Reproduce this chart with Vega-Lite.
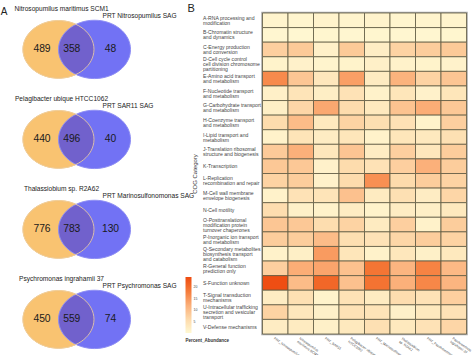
{
"$schema": "https://vega.github.io/schema/vega-lite/v6.json",
"background": "white",
"padding": {"left": 0, "top": 1, "right": 0, "bottom": 0},
"config": {"view": {"stroke": null}, "font": "Liberation Sans"},
"spacing": -11.5,
"resolve": {"legend": {"color": "independent"}},
"hconcat": [
{
"title": {"text": "A", "orient": "left", "anchor": "end", "angle": 0, "align": "right", "baseline": "top", "frame": "group", "offset": 0, "dy": -6, "fontSize": 10, "fontWeight": "normal", "color": "#222"},
"data": {"values": [
{"venn": 1, "kind": "set", "set": "ref", "name": "Nitrosopumilus maritimus SCM1"},
{"venn": 1, "kind": "set", "set": "sag", "name": "PRT Nitrosopumilus SAG"},
{"venn": 1, "kind": "count", "region": "ref only", "n": 489},
{"venn": 1, "kind": "count", "region": "shared", "n": 358},
{"venn": 1, "kind": "count", "region": "sag only", "n": 48},
{"venn": 2, "kind": "set", "set": "ref", "name": "Pelagibacter ubique HTCC1062"},
{"venn": 2, "kind": "set", "set": "sag", "name": "PRT SAR11 SAG"},
{"venn": 2, "kind": "count", "region": "ref only", "n": 440},
{"venn": 2, "kind": "count", "region": "shared", "n": 496},
{"venn": 2, "kind": "count", "region": "sag only", "n": 40},
{"venn": 3, "kind": "set", "set": "ref", "name": "Thalassiobium sp. R2A62"},
{"venn": 3, "kind": "set", "set": "sag", "name": "PRT Marinosulfonomonas SAG"},
{"venn": 3, "kind": "count", "region": "ref only", "n": 776},
{"venn": 3, "kind": "count", "region": "shared", "n": 783},
{"venn": 3, "kind": "count", "region": "sag only", "n": 130},
{"venn": 4, "kind": "set", "set": "ref", "name": "Psychromonas ingrahamii 37"},
{"venn": 4, "kind": "set", "set": "sag", "name": "PRT Psychromonas SAG"},
{"venn": 4, "kind": "count", "region": "ref only", "n": 450},
{"venn": 4, "kind": "count", "region": "shared", "n": 559},
{"venn": 4, "kind": "count", "region": "sag only", "n": 74}
]},
"facet": {"row": {"field": "venn", "type": "ordinal", "header": null}},
"spacing": 0,
"bounds": "flush",
"spec": {
"width": 176.5,
"height": 89.4,
"layer": [
{"transform": [{"filter": "datum.set === 'ref'"}],
 "mark": {"type": "point", "shape": "M-1,0A1,0.81,0,1,1,1,0A1,0.81,0,1,1,-1,0Z", "size": 5041, "filled": true, "fill": "#F9C371", "opacity": 1, "stroke": "#E6AC5C", "strokeWidth": 1, "yOffset": -8.3},
 "encoding": {"x": {"field": "set", "type": "nominal", "scale": {"type": "point", "domain": ["ref", "sag"], "range": [44.5, 80.5], "padding": 0}, "axis": null}}},
{"transform": [{"filter": "datum.set === 'sag'"}],
 "mark": {"type": "point", "shape": "M-1,0A1,0.81,0,1,1,1,0A1,0.81,0,1,1,-1,0Z", "size": 5184, "filled": true, "fill": "#3B3BF0", "fillOpacity": 0.72, "opacity": 1, "stroke": "#8E8EF4", "strokeWidth": 1, "yOffset": -8.3},
 "encoding": {"x": {"field": "set", "type": "nominal", "scale": {"type": "point", "domain": ["ref", "sag"], "range": [44.5, 80.5], "padding": 0}, "axis": null}}},
{"transform": [{"filter": "datum.set === 'ref'"}],
 "mark": {"type": "point", "shape": "M-1,0A1,0.81,0,1,1,1,0A1,0.81,0,1,1,-1,0Z", "size": 5041, "filled": false, "opacity": 1, "stroke": "#F6D9AA", "strokeOpacity": 0.8, "strokeWidth": 1, "yOffset": -8.3},
 "encoding": {"x": {"field": "set", "type": "nominal", "scale": {"type": "point", "domain": ["ref", "sag"], "range": [44.5, 80.5], "padding": 0}, "axis": null}}},
{"transform": [{"filter": "datum.kind === 'count' && datum.region !== 'shared'"}],
 "mark": {"type": "text", "fontSize": 10.3, "color": "#1a1a1a", "dy": -8.3},
 "encoding": {"x": {"field": "region", "type": "nominal", "scale": {"type": "point", "domain": ["ref only", "shared", "sag only"], "range": [28, 96.5], "padding": 0}, "axis": null},
  "text": {"field": "n", "type": "quantitative"}}},
{"transform": [{"filter": "datum.region === 'shared'"}],
 "mark": {"type": "text", "fontSize": 10.3, "color": "#1a1a1a", "dx": -4.5, "dy": -8.3},
 "encoding": {"x": {"field": "region", "type": "nominal", "scale": {"type": "point", "domain": ["ref only", "shared", "sag only"], "range": [28, 96.5], "padding": 0}, "axis": null},
  "text": {"field": "n", "type": "quantitative"}}},
{"transform": [{"filter": "datum.set === 'ref'"}],
 "mark": {"type": "text", "fontSize": 6.6, "color": "#222", "align": "center", "dx": 3},
 "encoding": {"x": {"field": "set", "type": "nominal", "scale": {"type": "point", "domain": ["ref", "sag"], "range": [44.5, 80.5], "padding": 0}, "axis": null},
  "y": {"field": "set", "type": "nominal", "scale": {"type": "point", "domain": ["ref", "sag"], "range": [-4.3, 2.5], "padding": 0}, "axis": null},
  "text": {"field": "name"}}},
{"transform": [{"filter": "datum.set === 'sag'"}],
 "mark": {"type": "text", "fontSize": 6.6, "color": "#222", "align": "left", "dx": 8},
 "encoding": {"x": {"field": "set", "type": "nominal", "scale": {"type": "point", "domain": ["ref", "sag"], "range": [44.5, 80.5], "padding": 0}, "axis": null},
  "y": {"field": "set", "type": "nominal", "scale": {"type": "point", "domain": ["ref", "sag"], "range": [-4.3, 2.5], "padding": 0}, "axis": null},
  "text": {"field": "name"}}}
],
"resolve": {"scale": {"x": "independent", "y": "independent"}}
}
},
{
"width": 204,
"height": 321,
"view": {"stroke": "#a8a8a8", "strokeWidth": 2.5},
"title": {"text": "B", "anchor": "start", "frame": "group", "dx": -75, "offset": -1, "fontSize": 11, "fontWeight": "normal", "color": "#222"},
"data": {"values": [
{"cog":"A","genome":"PRT_Nitrosopumilus","pct":0.8},{"cog":"A","genome":"Nitrosopumilus maritimus SCM1","pct":0.6},{"cog":"A","genome":"PRT_SAR11","pct":0.9},{"cog":"A","genome":"Pelagibacter ubique HTCC1062","pct":0.7},{"cog":"A","genome":"PRT_Marinosulfonomonas","pct":0.9},{"cog":"A","genome":"Thalassiobium sp. R2A62","pct":0.6},{"cog":"A","genome":"PRT_Psychromonas","pct":0.8},{"cog":"A","genome":"Psychromonas ingrahamii 37","pct":0.7},
{"cog":"B","genome":"PRT_Nitrosopumilus","pct":0.3},{"cog":"B","genome":"Nitrosopumilus maritimus SCM1","pct":0.2},{"cog":"B","genome":"PRT_SAR11","pct":0.4},{"cog":"B","genome":"Pelagibacter ubique HTCC1062","pct":0.3},{"cog":"B","genome":"PRT_Marinosulfonomonas","pct":0.4},{"cog":"B","genome":"Thalassiobium sp. R2A62","pct":0.3},{"cog":"B","genome":"PRT_Psychromonas","pct":0.3},{"cog":"B","genome":"Psychromonas ingrahamii 37","pct":0.4},
{"cog":"C","genome":"PRT_Nitrosopumilus","pct":7.5},{"cog":"C","genome":"Nitrosopumilus maritimus SCM1","pct":8.3},{"cog":"C","genome":"PRT_SAR11","pct":1.5},{"cog":"C","genome":"Pelagibacter ubique HTCC1062","pct":8.3},{"cog":"C","genome":"PRT_Marinosulfonomonas","pct":2.2},{"cog":"C","genome":"Thalassiobium sp. R2A62","pct":7.0},{"cog":"C","genome":"PRT_Psychromonas","pct":7.8},{"cog":"C","genome":"Psychromonas ingrahamii 37","pct":8.3},
{"cog":"D","genome":"PRT_Nitrosopumilus","pct":1.0},{"cog":"D","genome":"Nitrosopumilus maritimus SCM1","pct":1.3},{"cog":"D","genome":"PRT_SAR11","pct":0.8},{"cog":"D","genome":"Pelagibacter ubique HTCC1062","pct":1.0},{"cog":"D","genome":"PRT_Marinosulfonomonas","pct":1.5},{"cog":"D","genome":"Thalassiobium sp. R2A62","pct":1.2},{"cog":"D","genome":"PRT_Psychromonas","pct":1.0},{"cog":"D","genome":"Psychromonas ingrahamii 37","pct":1.1},
{"cog":"E","genome":"PRT_Nitrosopumilus","pct":16.5},{"cog":"E","genome":"Nitrosopumilus maritimus SCM1","pct":8.8},{"cog":"E","genome":"PRT_SAR11","pct":3.3},{"cog":"E","genome":"Pelagibacter ubique HTCC1062","pct":14.0},{"cog":"E","genome":"PRT_Marinosulfonomonas","pct":2.6},{"cog":"E","genome":"Thalassiobium sp. R2A62","pct":11.6},{"cog":"E","genome":"PRT_Psychromonas","pct":7.0},{"cog":"E","genome":"Psychromonas ingrahamii 37","pct":9.0},
{"cog":"F","genome":"PRT_Nitrosopumilus","pct":1.5},{"cog":"F","genome":"Nitrosopumilus maritimus SCM1","pct":4.0},{"cog":"F","genome":"PRT_SAR11","pct":2.0},{"cog":"F","genome":"Pelagibacter ubique HTCC1062","pct":4.3},{"cog":"F","genome":"PRT_Marinosulfonomonas","pct":1.2},{"cog":"F","genome":"Thalassiobium sp. R2A62","pct":3.6},{"cog":"F","genome":"PRT_Psychromonas","pct":1.3},{"cog":"F","genome":"Psychromonas ingrahamii 37","pct":3.6},
{"cog":"G","genome":"PRT_Nitrosopumilus","pct":1.8},{"cog":"G","genome":"Nitrosopumilus maritimus SCM1","pct":6.5},{"cog":"G","genome":"PRT_SAR11","pct":13.0},{"cog":"G","genome":"Pelagibacter ubique HTCC1062","pct":5.6},{"cog":"G","genome":"PRT_Marinosulfonomonas","pct":3.0},{"cog":"G","genome":"Thalassiobium sp. R2A62","pct":9.3},{"cog":"G","genome":"PRT_Psychromonas","pct":12.4},{"cog":"G","genome":"Psychromonas ingrahamii 37","pct":8.6},
{"cog":"H","genome":"PRT_Nitrosopumilus","pct":5.6},{"cog":"H","genome":"Nitrosopumilus maritimus SCM1","pct":10.3},{"cog":"H","genome":"PRT_SAR11","pct":3.0},{"cog":"H","genome":"Pelagibacter ubique HTCC1062","pct":7.0},{"cog":"H","genome":"PRT_Marinosulfonomonas","pct":5.0},{"cog":"H","genome":"Thalassiobium sp. R2A62","pct":4.5},{"cog":"H","genome":"PRT_Psychromonas","pct":1.0},{"cog":"H","genome":"Psychromonas ingrahamii 37","pct":7.5},
{"cog":"I","genome":"PRT_Nitrosopumilus","pct":1.2},{"cog":"I","genome":"Nitrosopumilus maritimus SCM1","pct":4.0},{"cog":"I","genome":"PRT_SAR11","pct":2.3},{"cog":"I","genome":"Pelagibacter ubique HTCC1062","pct":3.6},{"cog":"I","genome":"PRT_Marinosulfonomonas","pct":1.2},{"cog":"I","genome":"Thalassiobium sp. R2A62","pct":3.6},{"cog":"I","genome":"PRT_Psychromonas","pct":3.0},{"cog":"I","genome":"Psychromonas ingrahamii 37","pct":4.7},
{"cog":"J","genome":"PRT_Nitrosopumilus","pct":8.2},{"cog":"J","genome":"Nitrosopumilus maritimus SCM1","pct":12.0},{"cog":"J","genome":"PRT_SAR11","pct":3.3},{"cog":"J","genome":"Pelagibacter ubique HTCC1062","pct":9.0},{"cog":"J","genome":"PRT_Marinosulfonomonas","pct":2.3},{"cog":"J","genome":"Thalassiobium sp. R2A62","pct":7.5},{"cog":"J","genome":"PRT_Psychromonas","pct":3.3},{"cog":"J","genome":"Psychromonas ingrahamii 37","pct":7.8},
{"cog":"K","genome":"PRT_Nitrosopumilus","pct":8.6},{"cog":"K","genome":"Nitrosopumilus maritimus SCM1","pct":8.6},{"cog":"K","genome":"PRT_SAR11","pct":1.3},{"cog":"K","genome":"Pelagibacter ubique HTCC1062","pct":5.6},{"cog":"K","genome":"PRT_Marinosulfonomonas","pct":4.3},{"cog":"K","genome":"Thalassiobium sp. R2A62","pct":7.5},{"cog":"K","genome":"PRT_Psychromonas","pct":12.0},{"cog":"K","genome":"Psychromonas ingrahamii 37","pct":7.8},
{"cog":"L","genome":"PRT_Nitrosopumilus","pct":7.0},{"cog":"L","genome":"Nitrosopumilus maritimus SCM1","pct":7.8},{"cog":"L","genome":"PRT_SAR11","pct":1.3},{"cog":"L","genome":"Pelagibacter ubique HTCC1062","pct":5.6},{"cog":"L","genome":"PRT_Marinosulfonomonas","pct":15.8},{"cog":"L","genome":"Thalassiobium sp. R2A62","pct":5.8},{"cog":"L","genome":"PRT_Psychromonas","pct":7.8},{"cog":"L","genome":"Psychromonas ingrahamii 37","pct":7.0},
{"cog":"M","genome":"PRT_Nitrosopumilus","pct":1.2},{"cog":"M","genome":"Nitrosopumilus maritimus SCM1","pct":4.3},{"cog":"M","genome":"PRT_SAR11","pct":4.0},{"cog":"M","genome":"Pelagibacter ubique HTCC1062","pct":9.6},{"cog":"M","genome":"PRT_Marinosulfonomonas","pct":2.6},{"cog":"M","genome":"Thalassiobium sp. R2A62","pct":4.7},{"cog":"M","genome":"PRT_Psychromonas","pct":2.3},{"cog":"M","genome":"Psychromonas ingrahamii 37","pct":6.5},
{"cog":"N","genome":"PRT_Nitrosopumilus","pct":5.3},{"cog":"N","genome":"Nitrosopumilus maritimus SCM1","pct":1.6},{"cog":"N","genome":"PRT_SAR11","pct":1.2},{"cog":"N","genome":"Pelagibacter ubique HTCC1062","pct":2.3},{"cog":"N","genome":"PRT_Marinosulfonomonas","pct":1.0},{"cog":"N","genome":"Thalassiobium sp. R2A62","pct":2.3},{"cog":"N","genome":"PRT_Psychromonas","pct":1.8},{"cog":"N","genome":"Psychromonas ingrahamii 37","pct":3.0},
{"cog":"O","genome":"PRT_Nitrosopumilus","pct":8.8},{"cog":"O","genome":"Nitrosopumilus maritimus SCM1","pct":8.6},{"cog":"O","genome":"PRT_SAR11","pct":5.3},{"cog":"O","genome":"Pelagibacter ubique HTCC1062","pct":7.0},{"cog":"O","genome":"PRT_Marinosulfonomonas","pct":2.6},{"cog":"O","genome":"Thalassiobium sp. R2A62","pct":7.5},{"cog":"O","genome":"PRT_Psychromonas","pct":1.2},{"cog":"O","genome":"Psychromonas ingrahamii 37","pct":7.8},
{"cog":"P","genome":"PRT_Nitrosopumilus","pct":7.8},{"cog":"P","genome":"Nitrosopumilus maritimus SCM1","pct":7.8},{"cog":"P","genome":"PRT_SAR11","pct":10.3},{"cog":"P","genome":"Pelagibacter ubique HTCC1062","pct":5.0},{"cog":"P","genome":"PRT_Marinosulfonomonas","pct":4.3},{"cog":"P","genome":"Thalassiobium sp. R2A62","pct":6.5},{"cog":"P","genome":"PRT_Psychromonas","pct":7.8},{"cog":"P","genome":"Psychromonas ingrahamii 37","pct":7.0},
{"cog":"Q","genome":"PRT_Nitrosopumilus","pct":1.2},{"cog":"Q","genome":"Nitrosopumilus maritimus SCM1","pct":1.8},{"cog":"Q","genome":"PRT_SAR11","pct":14.5},{"cog":"Q","genome":"Pelagibacter ubique HTCC1062","pct":3.6},{"cog":"Q","genome":"PRT_Marinosulfonomonas","pct":1.2},{"cog":"Q","genome":"Thalassiobium sp. R2A62","pct":3.3},{"cog":"Q","genome":"PRT_Psychromonas","pct":1.6},{"cog":"Q","genome":"Psychromonas ingrahamii 37","pct":3.0},
{"cog":"R","genome":"PRT_Nitrosopumilus","pct":7.5},{"cog":"R","genome":"Nitrosopumilus maritimus SCM1","pct":12.4},{"cog":"R","genome":"PRT_SAR11","pct":13.4},{"cog":"R","genome":"Pelagibacter ubique HTCC1062","pct":9.6},{"cog":"R","genome":"PRT_Marinosulfonomonas","pct":19.0},{"cog":"R","genome":"Thalassiobium sp. R2A62","pct":11.3},{"cog":"R","genome":"PRT_Psychromonas","pct":17.3},{"cog":"R","genome":"Psychromonas ingrahamii 37","pct":10.7},
{"cog":"S","genome":"PRT_Nitrosopumilus","pct":24.0},{"cog":"S","genome":"Nitrosopumilus maritimus SCM1","pct":10.3},{"cog":"S","genome":"PRT_SAR11","pct":20.8},{"cog":"S","genome":"Pelagibacter ubique HTCC1062","pct":9.6},{"cog":"S","genome":"PRT_Marinosulfonomonas","pct":19.3},{"cog":"S","genome":"Thalassiobium sp. R2A62","pct":12.0},{"cog":"S","genome":"PRT_Psychromonas","pct":16.8},{"cog":"S","genome":"Psychromonas ingrahamii 37","pct":11.3},
{"cog":"T","genome":"PRT_Nitrosopumilus","pct":2.3},{"cog":"T","genome":"Nitrosopumilus maritimus SCM1","pct":4.7},{"cog":"T","genome":"PRT_SAR11","pct":1.0},{"cog":"T","genome":"Pelagibacter ubique HTCC1062","pct":4.3},{"cog":"T","genome":"PRT_Marinosulfonomonas","pct":2.6},{"cog":"T","genome":"Thalassiobium sp. R2A62","pct":5.3},{"cog":"T","genome":"PRT_Psychromonas","pct":4.3},{"cog":"T","genome":"Psychromonas ingrahamii 37","pct":7.5},
{"cog":"U","genome":"PRT_Nitrosopumilus","pct":7.0},{"cog":"U","genome":"Nitrosopumilus maritimus SCM1","pct":3.3},{"cog":"U","genome":"PRT_SAR11","pct":1.6},{"cog":"U","genome":"Pelagibacter ubique HTCC1062","pct":4.3},{"cog":"U","genome":"PRT_Marinosulfonomonas","pct":4.0},{"cog":"U","genome":"Thalassiobium sp. R2A62","pct":1.6},{"cog":"U","genome":"PRT_Psychromonas","pct":3.0},{"cog":"U","genome":"Psychromonas ingrahamii 37","pct":4.3},
{"cog":"V","genome":"PRT_Nitrosopumilus","pct":2.3},{"cog":"V","genome":"Nitrosopumilus maritimus SCM1","pct":2.6},{"cog":"V","genome":"PRT_SAR11","pct":1.6},{"cog":"V","genome":"Pelagibacter ubique HTCC1062","pct":3.0},{"cog":"V","genome":"PRT_Marinosulfonomonas","pct":4.7},{"cog":"V","genome":"Thalassiobium sp. R2A62","pct":3.0},{"cog":"V","genome":"PRT_Psychromonas","pct":4.3},{"cog":"V","genome":"Psychromonas ingrahamii 37","pct":6.5}
]},
"mark": {"type": "rect", "stroke": "#5f5a42", "strokeWidth": 0.8},
"encoding": {
"x": {"field": "genome", "type": "nominal",
 "sort": ["PRT_Nitrosopumilus", "Nitrosopumilus maritimus SCM1", "PRT_SAR11", "Pelagibacter ubique HTCC1062", "PRT_Marinosulfonomonas", "Thalassiobium sp. R2A62", "PRT_Psychromonas", "Psychromonas ingrahamii 37"],
 "scale": {"paddingInner": 0, "paddingOuter": 0},
 "axis": {"title": null, "labelAngle": 35, "labelFontSize": 3.4, "labelLineHeight": 4, "labelColor": "#444", "ticks": false, "domain": false, "labelPadding": 2,
  "labelExpr": "{'Nitrosopumilus maritimus SCM1': ['Nitrosopumilus', 'maritimus SCM1'], 'Pelagibacter ubique HTCC1062': ['Pelagibacter ubique', 'HTCC1062'], 'Thalassiobium sp. R2A62': ['Thalassiobium', 'sp. R2A62'], 'Psychromonas ingrahamii 37': ['Psychromonas', 'ingrahamii 37']}[datum.label] || datum.label"}},
"y": {"field": "cog", "type": "nominal", "sort": "ascending",
 "axis": {"title": "COG Category", "titleFontSize": 6, "titleFontWeight": "normal", "titleColor": "#333", "titlePadding": 5,
  "labelFontSize": 5.1, "labelAlign": "left", "labelPadding": 60, "labelColor": "#444", "labelLineHeight": 5, "ticks": false, "tickSize": 0, "domain": false,
  "labelOffset": {"condition": [{"test": "indexof(['D', 'O', 'Q', 'U'], datum.value) >= 0", "value": -5}, {"test": "indexof(['K', 'N', 'S', 'V'], datum.value) < 0", "value": -2.5}], "value": 0},
  "labelExpr": "{'A': ['A-RNA processing and', 'modification'], 'B': ['B-Chromatin structure', 'and dynamics'], 'C': ['C-Energy production', 'and conversion'], 'D': ['D-Cell cycle control', 'cell division chromosome', 'partitioning'], 'E': ['E-Amino acid transport', 'and metabolism'], 'F': ['F-Nucleotide transport', 'and metabolism'], 'G': ['G-Carbohydrate transport', 'and metabolism'], 'H': ['H-Coenzyme transport', 'and metabolism'], 'I': ['I-Lipid transport and', 'metabolism'], 'J': ['J-Translation ribosomal', 'structure and biogenesis'], 'K': 'K-Transcription', 'L': ['L-Replication', 'recombination and repair'], 'M': ['M-Cell wall membrane', 'envelope biogenesis'], 'N': 'N-Cell motility', 'O': ['O-Posttranslational', 'modification protein', 'turnover chaperones'], 'P': ['P-Inorganic ion transport', 'and metabolism'], 'Q': ['Q-Secondary metabolites', 'biosynthesis transport', 'and catabolism'], 'R': ['R-General function', 'prediction only'], 'S': 'S-Function unknown', 'T': ['T-Signal transduction', 'mechanisms'], 'U': ['U-Intracellular trafficking', 'secretion and vesicular', 'transport'], 'V': 'V-Defense mechanisms'}[datum.label]"}},
"color": {"field": "pct", "type": "quantitative",
 "scale": {"domain": [0, 24.5], "range": ["#FFF8D2", "#FDD9AA", "#FBAE78", "#F57A38", "#EE4A10"], "interpolate": "rgb"},
 "legend": {"orient": "none", "legendX": -77, "legendY": 264, "direction": "vertical", "gradientLength": 56, "gradientThickness": 6, "gradientStrokeWidth": 0,
  "values": [5, 10, 15, 20], "labelFontSize": 3.5, "labelOffset": 2, "labelColor": "#444",
  "title": "Percent_Abundance", "titleOrient": "bottom", "titleFontSize": 4.5, "titleFontWeight": "bold", "titlePadding": 5, "titleAnchor": "start", "titleAlign": "left", "titleColor": "#333"}}
}
}
]
}
